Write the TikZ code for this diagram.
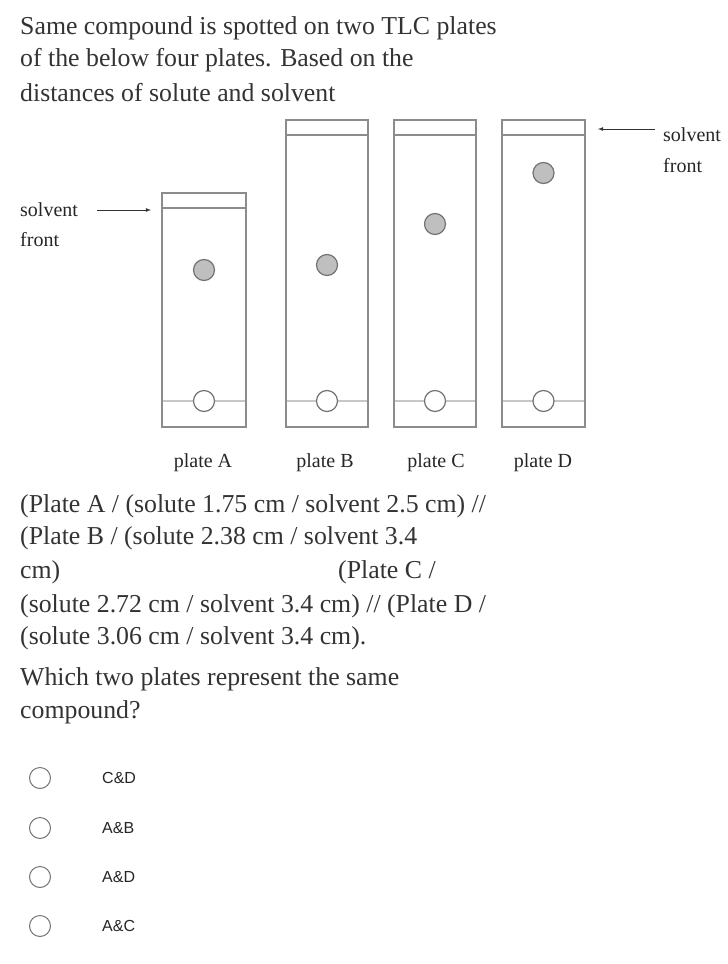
\documentclass[tikz,border=0pt]{standalone}
\usepackage{fontspec}
\setmainfont{Liberation Serif}
\setsansfont{Liberation Sans}
\begin{document}
\begin{tikzpicture}[x=1pt,y=-1pt,
  txt/.style={anchor=west,inner sep=0pt,font=\fontsize{25.8}{30}\selectfont,text=black!80},
  lab/.style={inner sep=0pt,font=\fontsize{20}{24}\selectfont,text=black!85},
  opt/.style={anchor=west,inner sep=0pt,font=\sffamily\fontsize{16}{19}\selectfont,text=black!85},
  plate/.style={draw=black!45,line width=1.2pt},
  spot/.style={circle,draw=black!55,fill=black!25,line width=1.2pt,minimum size=21pt,inner sep=0pt},
  origin/.style={circle,draw=black!55,fill=white,line width=1.2pt,minimum size=21pt,inner sep=0pt},
  radio/.style={circle,draw=black!55,line width=1pt,minimum size=21pt,inner sep=0pt}]
\useasboundingbox (0,0) rectangle (728,964);
\node[txt] (t1) at (20,28) {Same compound is spotted on two TLC plates};
\node[txt] (t2) at (20,60) {of the below four plates. Based on the};
\node[txt] (t3) at (20,93) {distances of solute and solvent};
% plates
\foreach \n/\xl/\xr/\yt/\sy in {A/162/246/193/270, B/286/368/120/265, C/394/476/120/224, D/502/585/120/173}{
  \draw[plate] (\xl,\yt) rectangle (\xr,427);
  \draw[plate] (\xl,\yt+15) -- (\xr,\yt+15);
  \draw[black!22,line width=2pt] (\xl+1,401) -- (\xr-1,401);
  \node[spot] (s\n) at ({(\xl+\xr)/2},\sy) {};
  \node[origin] (o\n) at ({(\xl+\xr)/2},401) {};
}
\node[lab] (lA) at (203,463) {plate A};
\node[lab] (lB) at (325,463) {plate B};
\node[lab] (lC) at (436,463) {plate C};
\node[lab] (lD) at (543,463) {plate D};
% solvent front labels
\node[lab,anchor=west] (sf1) at (20,210) {solvent};
\node[lab,anchor=west] (sf1b) at (20,240) {front};
\coordinate (a1s) at (97,210); \coordinate (a1e) at (151,210);
\draw[black!80,line width=0.8pt,-latex] (a1s) -- (a1e);
\node[lab,anchor=west] (sf2) at (663,135) {solvent};
\node[lab,anchor=west] (sf2b) at (663,166) {front};
\coordinate (a2s) at (655,129); \coordinate (a2e) at (598,129);
\draw[black!80,line width=0.8pt,-latex] (a2s) -- (a2e);
% paragraph
\node[txt] (p1) at (20,506) {(Plate A / (solute 1.75 cm / solvent 2.5 cm) //};
\node[txt] (p2) at (20,538) {(Plate B / (solute 2.38 cm / solvent 3.4};
\node[txt] (p3) at (20,572) {cm)};
\node[txt] (p3b) at (338,572) {(Plate C /};
\node[txt] (p4) at (20,606) {(solute 2.72 cm / solvent 3.4 cm) // (Plate D /};
\node[txt] (p5) at (20,638) {(solute 3.06 cm / solvent 3.4 cm).};
\node[txt] (q1) at (20,679) {Which two plates represent the same};
\node[txt] (q2) at (20,712) {compound?};
% options
\foreach \y/\t [count=\i] in {778/C\&D, 828/A\&B, 877/A\&D, 926/A\&C}{
  \node[radio] (r\i) at (40,\y) {};
  \node[opt] (o\i) at (102,\y) {\t};
}
\end{tikzpicture}
\end{document}
